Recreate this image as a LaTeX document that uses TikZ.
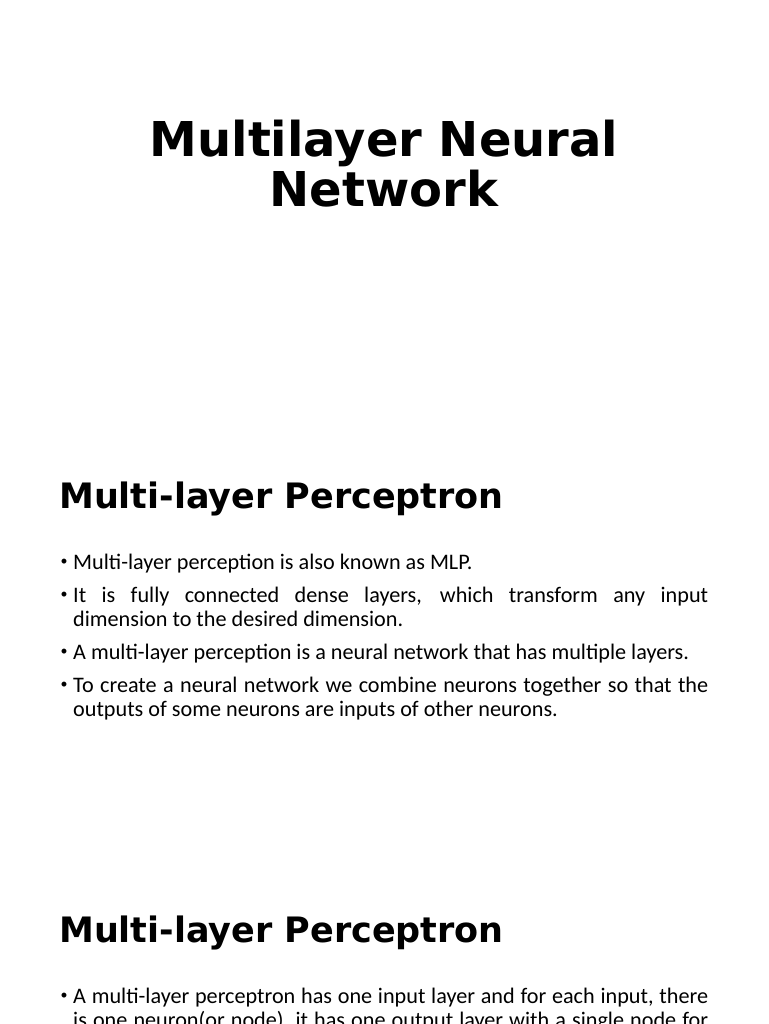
\documentclass[tikz,border=0pt]{standalone}
\usepackage{fontspec}
\setmainfont{Carlito}
\newfontfamily\headfont{DejaVu Sans}
\tikzset{
 ttl/.style={font=\headfont\bfseries\fontsize{48}{54}\selectfont, anchor=base, inner sep=0},
 hd/.style={font=\headfont\bfseries\fontsize{35}{40}\selectfont, anchor=base west, inner sep=0},
 bul/.style={font=\fontsize{22.2}{24}\selectfont, anchor=north west, inner sep=0, text width=635pt, align=justify},
 dot/.style={font=\fontsize{14}{16}\selectfont, anchor=center, inner sep=0}
}
\begin{document}
\begin{tikzpicture}[x=1pt,y=-1pt]
\clip (0,0) rectangle (768,1024);
\fill[white] (0,0) rectangle (768,1024);
\node[ttl] (t1) at (384,157) {Multilayer Neural};
\node[ttl] (t2) at (384,207) {Network};
\node[hd] (h1) at (59,508) {Multi-layer Perceptron};
\node[dot] (d1) at (64,562) {\textbullet};
\node[bul] (b1) at (73,554) {Multi-layer perception is also known as MLP.};
\node[dot] (d2) at (64,595) {\textbullet};
\node[bul] (b2) at (73,587) {It is fully connected dense layers, which transform any input\linebreak dimension to the desired dimension.};
\node[dot] (d3) at (64,652) {\textbullet};
\node[bul] (b3) at (73,644) {A multi-layer perception is a neural network that has multiple layers.};
\node[dot] (d4) at (64,685) {\textbullet};
\node[bul] (b4) at (73,677) {To create a neural network we combine neurons together so that the outputs of some neurons are inputs of other neurons.};
\node[hd] (h2) at (59,942) {Multi-layer Perceptron};
\node[dot] (d5) at (64,996) {\textbullet};
\node[bul] (b5) at (73,988) {A multi-layer perceptron has one input layer and for each input, there is one neuron(or node), it has one output layer with a single node for each output and it can have any number of hidden layers.};
\end{tikzpicture}
\end{document}
